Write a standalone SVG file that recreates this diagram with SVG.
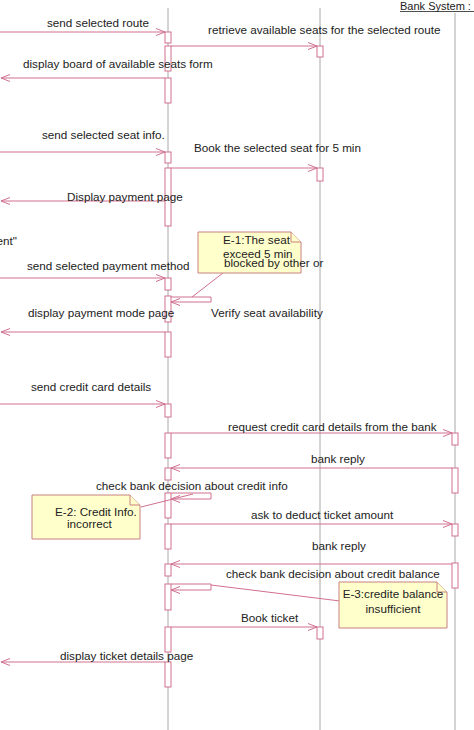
<svg xmlns="http://www.w3.org/2000/svg" width="474" height="730" viewBox="0 0 474 730">
<defs>
<marker id="arr" markerWidth="10" markerHeight="8" refX="9" refY="4" orient="auto" markerUnits="userSpaceOnUse">
<path d="M0,0.5 L9,4 L0,7.5" fill="none" stroke="#d0708f" stroke-width="1"/>
</marker>
</defs>
<style>
text{font-family:"Liberation Sans",Arial,sans-serif;font-size:11.7px;fill:#222}
.life{stroke:#a8a8a8;stroke-width:1;fill:none}
.msg{stroke:#d0708f;stroke-width:1;fill:none;marker-end:url(#arr)}
.act{fill:#fff;stroke:#d0708f;stroke-width:1}
.note{fill:#ffffcc;stroke:#c88080;stroke-width:1}
.nl{stroke:#d0708f;stroke-width:1;fill:none}
.c{text-anchor:middle}
</style>
<rect width="474" height="730" fill="#fff"/>
<g id="lifelines">
<line class="life" x1="168" y1="8" x2="168" y2="730"/>
<line class="life" x1="320" y1="8" x2="320" y2="730"/>
<line class="life" x1="455" y1="13" x2="455" y2="730"/>
</g>
<g id="bank-system">
<text x="400" y="10" style="font-size:11px">Bank System :</text>
<line x1="400" y1="11.5" x2="474" y2="11.5" stroke="#222" stroke-width="0.8"/>
</g>
<g id="activations">
<rect class="act" x="165" y="32" width="6" height="11"/>
<rect class="act" x="165" y="46" width="6" height="25"/>
<rect class="act" x="165" y="78" width="6" height="25"/>
<rect class="act" x="165" y="152" width="6" height="11"/>
<rect class="act" x="165" y="168" width="6" height="58"/>
<rect class="act" x="165" y="278" width="6" height="12"/>
<rect class="act" x="165" y="296" width="6" height="26"/>
<rect class="act" x="165" y="332" width="6" height="25"/>
<rect class="act" x="165" y="404" width="6" height="13"/>
<rect class="act" x="165" y="433" width="6" height="25"/>
<rect class="act" x="165" y="468" width="6" height="12"/>
<rect class="act" x="165" y="493" width="6" height="25"/>
<rect class="act" x="165" y="524" width="6" height="25"/>
<rect class="act" x="165" y="564" width="6" height="12"/>
<rect class="act" x="165" y="584" width="6" height="26"/>
<rect class="act" x="165" y="627" width="6" height="25"/>
<rect class="act" x="165" y="662" width="6" height="25"/>
<rect class="act" x="317" y="46" width="6" height="11"/>
<rect class="act" x="317" y="168" width="6" height="13"/>
<rect class="act" x="317" y="627" width="6" height="12"/>
<rect class="act" x="452" y="433" width="6" height="12"/>
<rect class="act" x="452" y="468" width="6" height="25"/>
<rect class="act" x="452" y="524" width="6" height="12"/>
<rect class="act" x="452" y="563" width="6" height="25"/>
</g>
<g id="connectors">
<line class="msg" x1="0" y1="32" x2="165" y2="32"/>
<line class="msg" x1="171" y1="46" x2="317" y2="46"/>
<line class="msg" x1="165" y1="78" x2="1" y2="78"/>
<line class="msg" x1="0" y1="152" x2="165" y2="152"/>
<line class="msg" x1="171" y1="168" x2="317" y2="168"/>
<line class="msg" x1="165" y1="201" x2="1" y2="201"/>
<line class="msg" x1="0" y1="278" x2="165" y2="278"/>
<path class="msg" d="M171,297 H211 V302 H171"/>
<line class="msg" x1="165" y1="332" x2="1" y2="332"/>
<line class="msg" x1="0" y1="404" x2="165" y2="404"/>
<line class="msg" x1="171" y1="433" x2="452" y2="433"/>
<line class="msg" x1="452" y1="468" x2="171" y2="468"/>
<path class="msg" d="M171,493 H211 V499 H171"/>
<line class="msg" x1="171" y1="524" x2="452" y2="524"/>
<line class="msg" x1="452" y1="564" x2="171" y2="564"/>
<path class="msg" d="M171,584 H211 V590 H171"/>
<line class="msg" x1="171" y1="627" x2="317" y2="627"/>
<line class="msg" x1="165" y1="662" x2="1" y2="662"/>
<line class="nl" x1="223" y1="273" x2="192" y2="297"/>
<line class="nl" x1="141" y1="507" x2="193" y2="494"/>
<line class="nl" x1="340" y1="601" x2="211" y2="585"/>
</g>
<g id="labels">
<text x="47" y="27">send selected route</text>
<text x="208" y="34">retrieve available seats for the selected route</text>
<text x="23" y="68">display board of available seats form</text>
<text x="42" y="139">send selected seat info.</text>
<text x="194" y="152">Book the selected seat for 5 min</text>
<text x="67" y="201">Display payment page</text>
<text x="17" y="245" text-anchor="end">ent"</text>
<text x="27" y="270">send selected payment method</text>
<text x="211" y="317">Verify seat availability</text>
<text x="28" y="317">display payment mode page</text>
<text x="31" y="391">send credit card details</text>
<text x="228" y="431">request credit card details from the bank</text>
<text x="311" y="463">bank reply</text>
<text x="96" y="490">check bank decision about credit info</text>
<text x="251" y="519">ask to deduct ticket amount</text>
<text x="312" y="550">bank reply</text>
<text x="226" y="578">check bank decision about credit balance</text>
<text x="241" y="622">Book ticket</text>
<text x="60" y="660">display ticket details page</text>
</g>
<g id="note-e1">
<path class="note" d="M198,232 H291 L301,242 V273 H198 Z"/>
<path class="note" d="M291,232 V242 H301"/>
<text x="223" y="244">E-1:The seat</text>
<text x="223" y="258">exceed 5 min</text>
<text x="224" y="267">blocked by other or</text>
</g>
<g id="note-e2">
<path class="note" d="M32,495 H130 L140,505 V539 H32 Z"/>
<path class="note" d="M130,495 V505 H140"/>
<text x="55" y="516">E-2: Credit Info.</text>
<text x="67" y="528">incorrect</text>
</g>
<g id="note-e3">
<path class="note" d="M339,582 H437 L447,592 V628 H339 Z"/>
<path class="note" d="M437,582 V592 H447"/>
<text x="393" y="598" class="c">E-3:credite balance</text>
<text x="393" y="613" class="c">insufficient</text>
</g>
</svg>
